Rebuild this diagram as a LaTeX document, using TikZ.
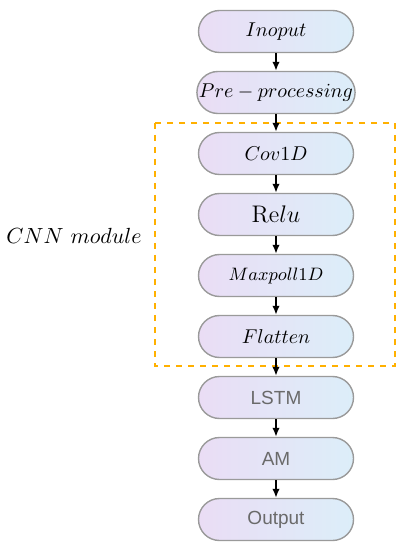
\documentclass[tikz,border=0pt]{standalone}
\usepackage{fontspec}
\newfontfamily\arialfont{Liberation Sans}
\usetikzlibrary{arrows.meta}
\definecolor{boxleft}{HTML}{EADDF5}
\definecolor{boxright}{HTML}{DCEEF9}
\definecolor{boxline}{HTML}{9A9A9A}
\definecolor{modline}{HTML}{FFB000}
\definecolor{grtext}{HTML}{6A6A6A}

\begin{document}
\begin{tikzpicture}[x=0.5pt,y=-0.5pt]
      \tikzset{
        node distance=30.5pt,
        block/.style={draw=boxline,line width=0.7pt,rounded corners=10.5pt,
          left color=boxleft,right color=boxright,
          minimum width=77.5pt,minimum height=21pt,inner sep=1pt},
        plain/.style={block,font=\arialfont\fontsize{9.5}{11}\selectfont,text=grtext},
        flow/.style={-{Latex[length=4.5pt,width=3.8pt]},line width=1.15pt},
        module/.style={draw=modline,dashed,line width=0.7pt}
      }
      \useasboundingbox (0,0) rectangle (409,550);

      \draw[module] (155,123) rectangle (395,366);
      \node (cnn) at (74,236) {\fontsize{11}{13}\selectfont $CNN\ module$};

      \node[block] (inp) at (276,31.5) {$Inoput$};
      \node[block, below of=inp] (pre) {$Pre-processing$};
      \node[block, below of=pre] (cov) {$Cov1D$};
      \node[block, below of=cov] (relu) {\large $\mathrm{Re}lu$};
      \node[block, below of=relu] (pool) {\small $Maxpoll1D$};
      \node[block, below of=pool] (flat) {$Flatten$};
      \node[plain, below of=flat] (lstm) {LSTM};
      \node[plain, below of=lstm] (am) {AM};
      \node[plain, below of=am] (out) {Output};

      \draw[flow] (inp) edge[] (pre)
            (pre) edge[] (cov)
            (cov) edge[] (relu)
            (relu) edge[] (pool)
            (pool) edge[] (flat)
            (flat) edge[] (lstm)
            (lstm) edge[] (am)
            (am) edge[] (out);
\end{tikzpicture}
\end{document}
